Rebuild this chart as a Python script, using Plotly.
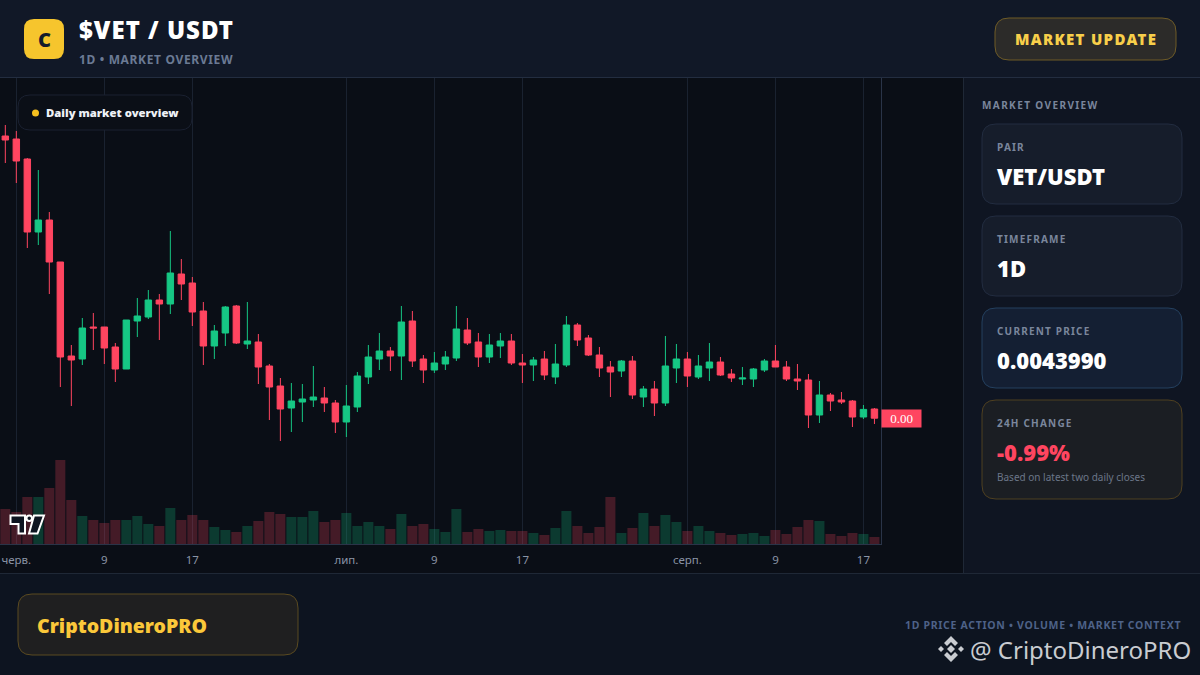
import json

import pandas as pd
import plotly.graph_objects as go

W = 1200
H = 675

# daily candles, prices in millionths of USDT (0.0043990 -> 4399)
open_e6 = [5810, 5795, 5695, 5330, 5390, 5180, 4710, 4695, 4855, 4855,
           4755, 4645, 4885, 4905, 4990, 4970, 5120, 5075, 4935, 4760,
           4825, 4960, 4770, 4780, 4660, 4560, 4450, 4480, 4490, 4500,
           4475, 4380, 4455, 4605, 4695, 4735, 4710, 4885, 4695, 4640,
           4670, 4700, 4840, 4780, 4705, 4760, 4785, 4675, 4665, 4695,
           4605, 4665, 4865, 4800, 4715, 4655, 4635, 4685, 4505, 4545,
           4475, 4650, 4695, 4605, 4650, 4680, 4620, 4595, 4595, 4640,
           4685, 4655, 4595, 4590, 4415, 4515, 4490, 4485, 4405, 4445]
high_e6 = [5865, 5835, 5700, 5640, 5430, 5180, 4765, 4900, 4925, 4855,
           4775, 4890, 5000, 5040, 5020, 5335, 5195, 5105, 4980, 4865,
           4960, 4965, 4980, 4820, 4670, 4600, 4575, 4570, 4660, 4555,
           4490, 4565, 4630, 4765, 4825, 4755, 4960, 4935, 4715, 4730,
           4735, 4960, 4900, 4825, 4820, 4825, 4820, 4720, 4705, 4735,
           4770, 4910, 4875, 4815, 4755, 4685, 4690, 4710, 4560, 4585,
           4810, 4770, 4730, 4715, 4775, 4705, 4645, 4655, 4650, 4695,
           4765, 4685, 4670, 4620, 4585, 4525, 4530, 4490, 4465, 4450]
low_e6 = [5675, 5575, 5250, 5265, 5020, 4555, 4460, 4665, 4740, 4670,
          4580, 4645, 4805, 4895, 4790, 4920, 4990, 4860, 4665, 4695,
          4760, 4770, 4745, 4570, 4390, 4285, 4330, 4380, 4455, 4430,
          4325, 4305, 4430, 4570, 4640, 4635, 4590, 4655, 4575, 4625,
          4640, 4685, 4765, 4655, 4675, 4700, 4665, 4575, 4585, 4590,
          4570, 4655, 4760, 4710, 4605, 4505, 4605, 4495, 4455, 4410,
          4460, 4575, 4555, 4595, 4585, 4610, 4580, 4565, 4555, 4630,
          4655, 4585, 4540, 4350, 4375, 4435, 4470, 4355, 4395, 4370]
close_e6 = [5790, 5685, 5330, 5390, 5180, 4705, 4690, 4850, 4850, 4750,
            4645, 4890, 4910, 4990, 4970, 5125, 5070, 4930, 4760, 4835,
            4955, 4775, 4785, 4655, 4555, 4445, 4485, 4495, 4505, 4475,
            4380, 4460, 4610, 4705, 4735, 4710, 4880, 4685, 4640, 4675,
            4705, 4845, 4775, 4705, 4765, 4785, 4675, 4665, 4690, 4615,
            4670, 4865, 4790, 4715, 4650, 4630, 4685, 4515, 4545, 4475,
            4660, 4695, 4610, 4660, 4680, 4615, 4600, 4600, 4645, 4685,
            4655, 4595, 4585, 4415, 4515, 4485, 4480, 4405, 4443, 4399]
# relative volume, no scale in the picture
volume = [35, 32, 47, 47, 56, 84, 44, 28, 24, 21,
          24, 24, 28, 20, 18, 36, 24, 29, 24, 17,
          14, 12, 18, 23, 32, 30, 27, 27, 33, 22,
          24, 31, 18, 22, 18, 15, 30, 18, 20, 15,
          12, 35, 12, 15, 13, 14, 13, 13, 11, 9,
          16, 33, 18, 11, 17, 47, 11, 16, 31, 18,
          29, 22, 13, 18, 13, 11, 9, 10, 11, 8,
          14, 10, 17, 24, 23, 10, 8, 11, 10, 7]

dates = pd.date_range("2026-05-31", periods=len(open_e6), freq="D")
tick_dates = ["2026-06-01", "2026-06-09", "2026-06-17", "2026-07-01", "2026-07-09",
              "2026-07-17", "2026-08-01", "2026-08-09", "2026-08-17"]
tick_labels = ["черв.", "9", "17", "лип.", "9", "17", "серп.", "9", "17"]

opens = [v / 1e6 for v in open_e6]
highs = [v / 1e6 for v in high_e6]
lows = [v / 1e6 for v in low_e6]
closes = [v / 1e6 for v in close_e6]

GREEN = "#16c784"
RED = "#ff4560"
GOLD = "#f8cf4a"

# plotly has no letter spacing setting, applied to the svg text after drawing
spacing = {
    "$VET / USDT": 1.0,
    "1D • MARKET OVERVIEW": 0.65,
    "MARKET UPDATE": 1.3,
    "MARKET OVERVIEW": 1.4,
    "PAIR": 1.2,
    "TIMEFRAME": 1.2,
    "CURRENT PRICE": 1.2,
    "24H CHANGE": 1.2,
    "1D PRICE ACTION • VOLUME • MARKET CONTEXT": 0.7,
}


def px(x):
    return x / W


def py(y):
    return 1 - y / H


def rect(x0, y0, x1, y1, fill, line=None, r=0, layer="below", width=1):
    if r:
        a, b, c, d = px(x0), px(x1), py(y0), py(y1)
        rx, ry = r / W, r / H
        path = (f"M {a + rx} {c} L {b - rx} {c} Q {b} {c} {b} {c - ry} L {b} {d + ry} Q {b} {d} {b - rx} {d} "
                f"L {a + rx} {d} Q {a} {d} {a} {d + ry} L {a} {c - ry} Q {a} {c} {a + rx} {c} Z")
        return dict(type="path", xref="paper", yref="paper", path=path, fillcolor=fill, layer=layer,
                    line=dict(color=line or fill, width=width if line else 0))
    return dict(type="rect", xref="paper", yref="paper", x0=px(x0), x1=px(x1), y0=py(y1), y1=py(y0),
                fillcolor=fill, layer=layer, line=dict(width=0))


def poly(points, fill, line=None, width=0, layer="above"):
    path = "M " + " L ".join(f"{px(x)} {py(y)}" for x, y in points) + " Z"
    return dict(type="path", xref="paper", yref="paper", path=path, fillcolor=fill, layer=layer,
                line=dict(color=line or fill, width=width))


def label(x, y, text, size, color, weight=400, family="Noto Sans", anchor="left"):
    return dict(xref="paper", yref="paper", x=px(x), y=py(y), text=text, showarrow=False,
                xanchor=anchor, yanchor="middle", align=anchor, borderpad=0, borderwidth=0,
                font=dict(size=size, color=color, weight=weight, family=family))


shapes = [
    # page blocks
    rect(0, 0, W, 78, "#111827"),
    rect(0, 78, 963, 573, "#0a0e16"),
    rect(963, 78, W, 573, "#0f1522"),
    rect(0, 573, W, H, "#0d1420"),
    rect(0, 77, W, 78, "#232d40"),
    rect(963, 78, 964, 573, "#1f2836"),
    rect(0, 573, W, 574, "#1f2836"),
    # header
    rect(24, 19, 64, 59, "#f6c52d", r=10),
    rect(995, 18, 1176, 60, "#2c2b29", "#6e5b27", r=14),
    # side cards
    rect(982, 124, 1182, 204, "#161d2b", "#222c40", r=14),
    rect(982, 216, 1182, 296, "#161d2b", "#222c40", r=14),
    rect(982, 308, 1182, 388, "#141f33", "#24405f", r=14),
    rect(982, 400, 1182, 499, "#1b1e23", "#4f4020", r=14),
    # footer
    rect(18, 594, 298, 655, "#1f1f20", "#5a4a20", r=14),
    # chart badge
    rect(18, 95, 192, 130, "#0b0f17", "#1a2030", r=12, layer="above"),
    dict(type="circle", xref="paper", yref="paper", x0=px(32), x1=px(39), y0=py(116.5), y1=py(109.5),
         fillcolor="#f5bf1f", line=dict(width=0), layer="above"),
    # small chart logo
    poly([(10.5, 515.5), (25, 515.5), (25, 533.5), (18.5, 533.5), (18.5, 524), (10.5, 524)],
         "#0d1420", "#ffffff", 2),
    dict(type="circle", xref="paper", yref="paper", x0=px(26.5), x1=px(32), y0=py(521), y1=py(515.5),
         fillcolor="#0d1420", line=dict(color="#ffffff", width=2), layer="above"),
    poly([(34, 515.5), (44, 515.5), (37.5, 533.5), (29, 533.5)], "#0d1420", "#ffffff", 2),
    # exchange mark by the watermark
    poly([(951, 636), (958, 643), (955, 646), (951, 642), (947, 646), (944, 643)], "#c9ccd1"),
    poly([(951, 662), (958, 655), (955, 652), (951, 656), (947, 652), (944, 655)], "#c9ccd1"),
    poly([(951, 645), (955, 649), (951, 653), (947, 649)], "#c9ccd1"),
    poly([(941, 646), (944, 649), (941, 652), (938, 649)], "#c9ccd1"),
    poly([(961, 646), (964, 649), (961, 652), (958, 649)], "#c9ccd1"),
]

annotations = [
    label(44, 39, "C", 20, "#141b2b", 900, anchor="center"),
    label(79, 29, "$VET / USDT", 24, "#ffffff", 900),
    label(79, 59.5, "1D • MARKET OVERVIEW", 12, "#6b7a94", 700),
    label(1015, 39, "MARKET UPDATE", 15, GOLD, 900),
    label(46, 112.5, "Daily market overview", 11.3, "#eef1f6", 900),
    label(982, 105, "MARKET OVERVIEW", 10, "#7a869c", 700),
    label(997, 147, "PAIR", 10, "#7a869c", 700),
    label(997, 175.5, "VET/USDT", 22, "#ffffff", 900),
    label(997, 239, "TIMEFRAME", 10, "#7a869c", 700),
    label(997, 267.5, "1D", 22, "#ffffff", 900),
    label(997, 331, "CURRENT PRICE", 10, "#7a869c", 700),
    label(997, 359.5, "0.0043990", 22, "#ffffff", 900),
    label(997, 423, "24H CHANGE", 10, "#7a869c", 700),
    label(997, 451.5, "-0.99%", 22, RED, 900),
    label(997, 477, "Based on latest two daily closes", 10, "#6b7688"),
    label(37, 625, "CriptoDineroPRO", 19.5, "#fbc83a", 900),
    label(905, 625, "1D PRICE ACTION • VOLUME • MARKET CONTEXT", 10.5, "#4e6288", 700),
    label(970, 649, "@ CriptoDineroPRO", 24, "#c9ccd1"),
    # last price tag
    dict(xref="paper", yref="y", x=px(880.5), y=closes[-1], text="0.00", showarrow=False, xanchor="left",
         yanchor="middle", width=39, height=17, align="center", valign="middle", bgcolor=RED, borderpad=0,
         font=dict(size=13, color="#ffffff", family="Liberation Serif")),
]

volume_colors = ["rgba(22,199,132,0.24)" if c >= o else "rgba(255,69,96,0.24)"
                 for o, c in zip(opens, closes)]

fig = go.Figure()
fig.add_trace(go.Bar(x=dates, y=volume, yaxis="y2", marker=dict(color=volume_colors, line=dict(width=0))))
fig.add_trace(go.Candlestick(
    x=dates, open=opens, high=highs, low=lows, close=closes,
    increasing=dict(line=dict(color=GREEN, width=1), fillcolor=GREEN),
    decreasing=dict(line=dict(color=RED, width=1), fillcolor=RED),
    whiskerwidth=0,
))

x_start = dates[0] - pd.Timedelta(hours=11.6)
x_end = dates[0] + pd.Timedelta(days=79.55)

fig.update_layout(
    width=W,
    height=H,
    margin=dict(l=0, r=0, t=0, b=0),
    paper_bgcolor="#0a0e16",
    plot_bgcolor="rgba(0,0,0,0)",
    showlegend=False,
    bargap=0.09,
    boxgap=0.1,
    boxgroupgap=0.35,
    shapes=shapes,
    annotations=annotations,
    xaxis=dict(domain=[0, px(880.5)], range=[x_start, x_end], rangeslider=dict(visible=False),
               tickmode="array", tickvals=tick_dates, ticktext=tick_labels, ticks="",
               gridcolor="#1a2230", gridwidth=1, showline=True, linecolor="#2a3448",
               tickangle=0, ticklabelstandoff=5, zeroline=False,
               tickfont=dict(size=11.5, color="#8a94a6", family="Noto Sans")),
    yaxis=dict(domain=[py(544), py(78)], range=[0.00377, 0.0061], side="right", showgrid=False,
               showticklabels=False, ticks="", zeroline=False, showline=True, linecolor="#2a3448"),
    yaxis2=dict(domain=[py(544), py(78)], range=[0, 466], overlaying="y", showgrid=False,
                showticklabels=False, ticks="", zeroline=False, showline=False),
)

page_fix = """
document.body.style.margin = '0';
var spacing = %s;
document.querySelectorAll('.annotation-text').forEach(function (t) {
    var s = spacing[t.textContent];
    if (s) { t.style.letterSpacing = s + 'px'; }
});
""" % json.dumps(spacing, ensure_ascii=False)

fig.write_html("out.html", post_script=page_fix, config=dict(displayModeBar=False))
